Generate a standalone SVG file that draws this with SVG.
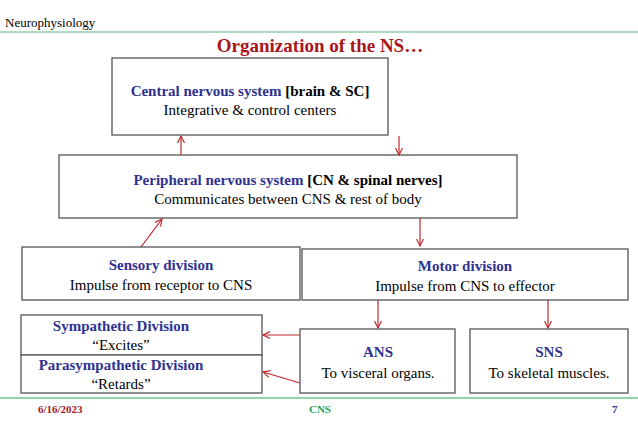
<svg xmlns="http://www.w3.org/2000/svg" width="638" height="437" viewBox="0 0 638 437" font-family="'Liberation Serif','DejaVu Serif',serif">
<style>
.box{fill:#fff;stroke:#555;stroke-width:1.3;}
.t{font-size:15px;text-anchor:middle;fill:#000;}
.h{font-weight:bold;fill:#2e3192;}
.c line{stroke:#c0282d;stroke-width:1.2;marker-end:url(#a);}
</style>
<defs><marker id="a" markerWidth="8" markerHeight="8" refX="7" refY="4" orient="auto" markerUnits="userSpaceOnUse"><path d="M0,0.5 L7,4 L0,7.5" fill="none" stroke="#c0282d" stroke-width="1.2"/></marker></defs>
<rect width="638" height="437" fill="#fff"/>
<text x="5" y="27" font-size="13">Neurophysiology</text>
<line x1="0" y1="32" x2="638" y2="32" stroke="#5cb87a" stroke-width="1.2"/>
<text x="320" y="52" font-size="19" font-weight="bold" fill="#a8151b" text-anchor="middle">Organization of the NS…</text>
<g id="cns"><rect class="box" x="112" y="58" width="276" height="77"/>
<text class="t" x="250" y="96"><tspan class="h">Central nervous system</tspan> <tspan font-weight="bold">[brain &amp; SC]</tspan></text>
<text class="t" x="250" y="115">Integrative &amp; control centers</text></g>
<g id="pns"><rect class="box" x="59" y="155" width="458" height="63"/>
<text class="t" x="288" y="185"><tspan class="h">Peripheral nervous system</tspan> <tspan font-weight="bold">[CN &amp; spinal nerves]</tspan></text>
<text class="t" x="288" y="204">Communicates between CNS &amp; rest of body</text></g>
<g id="sensory"><rect class="box" x="22" y="247" width="278" height="53"/>
<text class="t h" x="161" y="270">Sensory division</text>
<text class="t" x="161" y="290">Impulse from receptor to CNS</text></g>
<g id="motor"><rect class="box" x="302" y="249" width="326" height="51"/>
<text class="t h" x="465" y="271">Motor division</text>
<text class="t" x="465" y="291">Impulse from CNS to effector</text></g>
<g id="symp"><rect class="box" x="21" y="315" width="241" height="40"/>
<text class="t h" x="121" y="331">Sympathetic Division</text>
<text class="t" x="121" y="350">“Excites”</text></g>
<g id="para"><rect class="box" x="21" y="355" width="241" height="38"/>
<text class="t h" x="121" y="370">Parasympathetic Division</text>
<text class="t" x="121" y="389">“Retards”</text></g>
<g id="ans"><rect class="box" x="300" y="329" width="155" height="64"/>
<text class="t h" x="378" y="357">ANS</text>
<text class="t" x="378" y="378">To visceral organs.</text></g>
<g id="sns"><rect class="box" x="470" y="329" width="158" height="64"/>
<text class="t h" x="549" y="357">SNS</text>
<text class="t" x="549" y="378">To skeletal muscles.</text></g>
<g class="c" id="connectors">
<line x1="181" y1="155" x2="181" y2="136"/>
<line x1="399" y1="136" x2="399" y2="155"/>
<line x1="141" y1="247" x2="162" y2="219"/>
<line x1="420" y1="218" x2="420" y2="246"/>
<line x1="378" y1="300" x2="378" y2="328"/>
<line x1="548" y1="300" x2="548" y2="328"/>
<line x1="300" y1="335" x2="263" y2="335"/>
<line x1="300" y1="383" x2="263" y2="372"/>
</g>
<line x1="0" y1="398" x2="638" y2="398" stroke="#8fd6a8" stroke-width="2"/>
<text x="38" y="413" font-size="11" font-weight="bold" fill="#a8151b">6/16/2023</text>
<text x="320" y="413" font-size="11" font-weight="bold" fill="#1fa35a" text-anchor="middle">CNS</text>
<text x="612" y="413" font-size="11" font-weight="bold" fill="#2e3192">7</text>
</svg>
